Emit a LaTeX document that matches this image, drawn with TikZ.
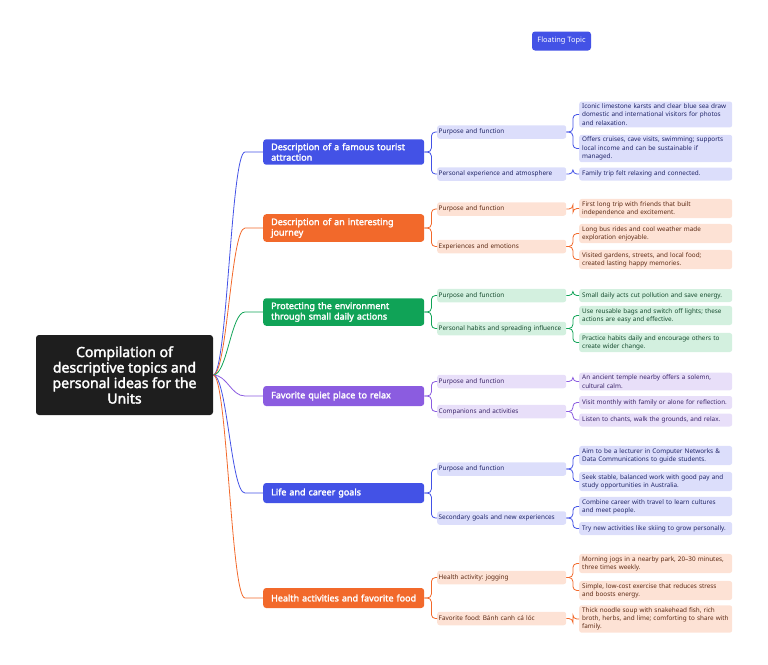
\documentclass[tikz,border=0pt]{standalone}
\usepackage{fontspec}
\setmainfont{Noto Sans}[AutoFakeBold=2.2]
\frenchspacing

\definecolor{rootdark}{HTML}{1E1E1E}
\definecolor{cblue}{HTML}{4352E6}
\definecolor{corange}{HTML}{F2692B}
\definecolor{cgreen}{HTML}{10A357}
\definecolor{cpurple}{HTML}{8B5CE0}
\definecolor{lblue}{HTML}{DCDEFB}
\definecolor{lorange}{HTML}{FDE2D5}
\definecolor{lgreen}{HTML}{D3F0DF}
\definecolor{lpurple}{HTML}{E8DFF9}
\definecolor{dblue}{HTML}{1F2466}
\definecolor{dorange}{HTML}{5C2A14}
\definecolor{dgreen}{HTML}{144A2D}
\definecolor{dpurple}{HTML}{3A2468}

\tikzstyle{root} = [rectangle, rounded corners=3pt, fill=rootdark, text=white, font=\bfseries\fontsize{14}{15.5}\selectfont, align=center, minimum width=177pt, minimum height=80pt]
\tikzstyle{topic} = [rectangle, rounded corners=3pt, text=white, font=\bfseries\fontsize{9}{10.5}\selectfont, align=left, text width=145pt, inner xsep=8pt, inner ysep=4pt, minimum height=20pt, anchor=west]
\tikzstyle{sub} = [rectangle, rounded corners=2.5pt, font=\fontsize{6.4}{8}\selectfont\frenchspacing, align=left, text width=126pt, inner xsep=1.5pt, inner ysep=1pt, minimum height=13.5pt, anchor=west]
\tikzstyle{leaf} = [rectangle, rounded corners=2.5pt, font=\fontsize{6.35}{8.3}\selectfont\frenchspacing, align=left, text width=147pt, inner xsep=3pt, inner ysep=2.2pt, minimum height=13pt, anchor=west]
\tikzstyle{link} = [line width=0.8pt, rounded corners=4pt]
\tikzstyle{bluebox} = [fill=lblue, text=dblue]
\tikzstyle{orangebox} = [fill=lorange, text=dorange]
\tikzstyle{greenbox} = [fill=lgreen, text=dgreen]
\tikzstyle{purplebox} = [fill=lpurple, text=dpurple]

\begin{document}
\begin{tikzpicture}[x=1pt, y=-1pt]
\useasboundingbox (0,0) rectangle (768,664);

%wortel
\node[root] (root) at (124.5,375) {Compilation of\\descriptive topics and\\personal ideas for the\\Units};

%floating
\node[rectangle, rounded corners=3pt, fill=cblue, text=white, font=\fontsize{7.4}{8}\selectfont, minimum width=59pt, minimum height=19pt, inner sep=0pt] (float) at (561.5,41) {Floating Topic};

%begin topic1
\node[topic, fill=cblue] (t1) at (263,152) {Description of a famous tourist\\attraction};
\node[sub, bluebox] (s11) at (437,132) {Purpose and function};
\node[leaf, bluebox] (l111) at (579,114.5) {Iconic limestone karsts and clear blue sea draw\\domestic and international visitors for photos\\and relaxation.};
\node[leaf, bluebox] (l112) at (579,148.5) {Offers cruises, cave visits, swimming; supports\\local income and can be sustainable if\\managed.};
\node[sub, bluebox] (s12) at (437,174) {Personal experience and atmosphere};
\node[leaf, bluebox] (l121) at (579,174) {Family trip felt relaxing and connected.};
%end topic1

%begin topic2
\node[topic, fill=corange] (t2) at (263,228) {Description of an interesting\\journey};
\node[sub, orangebox] (s21) at (437,209) {Purpose and function};
\node[leaf, orangebox] (l211) at (579,208.5) {First long trip with friends that built\\independence and excitement.};
\node[sub, orangebox] (s22) at (437,246.5) {Experiences and emotions};
\node[leaf, orangebox] (l221) at (579,233.5) {Long bus rides and cool weather made\\exploration enjoyable.};
\node[leaf, orangebox] (l222) at (579,259.5) {Visited gardens, streets, and local food;\\created lasting happy memories.};
%end topic2

%begin topic3
\node[topic, fill=cgreen] (t3) at (263,312) {Protecting the environment\\through small daily actions};
\node[sub, greenbox] (s31) at (437,295.5) {Purpose and function};
\node[leaf, greenbox] (l311) at (579,295.5) {Small daily acts cut pollution and save energy.};
\node[sub, greenbox] (s32) at (437,328.5) {Personal habits and spreading influence};
\node[leaf, greenbox] (l321) at (579,315.5) {Use reusable bags and switch off lights; these\\actions are easy and effective.};
\node[leaf, greenbox] (l322) at (579,342.5) {Practice habits daily and encourage others to\\create wider change.};
%end topic3

%begin topic4
\node[topic, fill=cpurple] (t4) at (263,396) {Favorite quiet place to relax};
\node[sub, purplebox] (s41) at (437,381.5) {Purpose and function};
\node[leaf, purplebox] (l411) at (579,381.5) {An ancient temple nearby offers a solemn,\\cultural calm.};
\node[sub, purplebox] (s42) at (437,411.5) {Companions and activities};
\node[leaf, purplebox] (l421) at (579,402.5) {Visit monthly with family or alone for reflection.};
\node[leaf, purplebox] (l422) at (579,420) {Listen to chants, walk the grounds, and relax.};
%end topic4

%begin topic5
\node[topic, fill=cblue] (t5) at (263,493) {Life and career goals};
\node[sub, bluebox] (s51) at (437,469) {Purpose and function};
\node[leaf, bluebox] (l511) at (579,455.5) {Aim to be a lecturer in Computer Networks \&\\Data Communications to guide students.};
\node[leaf, bluebox] (l512) at (579,481.5) {Seek stable, balanced work with good pay and\\study opportunities in Australia.};
\node[sub, bluebox] (s52) at (437,518) {Secondary goals and new experiences};
\node[leaf, bluebox] (l521) at (579,506.5) {Combine career with travel to learn cultures\\and meet people.};
\node[leaf, bluebox] (l522) at (579,528.5) {Try new activities like skiing to grow personally.};
%end topic5

%begin topic6
\node[topic, fill=corange] (t6) at (263,598) {Health activities and favorite food};
\node[sub, orangebox] (s61) at (437,577.5) {Health activity: jogging};
\node[leaf, orangebox] (l611) at (579,563.5) {Morning jogs in a nearby park, 20–30 minutes,\\three times weekly.};
\node[leaf, orangebox] (l612) at (579,590.5) {Simple, low-cost exercise that reduces stress\\and boosts energy.};
\node[sub, orangebox] (s62) at (437,618.5) {Favorite food: Bánh canh cá lóc};
\node[leaf, orangebox] (l621) at (579,619) {Thick noodle soup with snakehead fish, rich\\broth, herbs, and lime; comforting to share with\\family.};
%end topic6

%root to topics
\foreach \t/\c in {t1/cblue, t2/corange, t3/cgreen, t4/cpurple, t5/cblue, t6/corange}
    \draw[link, \c] (root.east) .. controls +(14,0) and +(-18,0) .. ([xshift=-14pt]\t.west) -- (\t.west);

%topics to subs
\foreach \t/\s/\c in {t1/s11/cblue, t1/s12/cblue, t2/s21/corange, t2/s22/corange, t3/s31/cgreen, t3/s32/cgreen,
    t4/s41/cpurple, t4/s42/cpurple, t5/s51/cblue, t5/s52/cblue, t6/s61/corange, t6/s62/corange}
    \draw[link, \c] (\t.east) -- ++(7,0) |- (\s.west);

%subs to leaves
\foreach \s/\l/\c in {s11/l111/cblue, s11/l112/cblue, s12/l121/cblue,
    s21/l211/corange, s22/l221/corange, s22/l222/corange,
    s31/l311/cgreen, s32/l321/cgreen, s32/l322/cgreen,
    s41/l411/cpurple, s42/l421/cpurple, s42/l422/cpurple,
    s51/l511/cblue, s51/l512/cblue, s52/l521/cblue, s52/l522/cblue,
    s61/l611/corange, s61/l612/corange, s62/l621/corange}
    \draw[link, \c] (\s.east) -- ++(6.5,0) |- (\l.west);
%end wortel
\end{tikzpicture}
\end{document}
